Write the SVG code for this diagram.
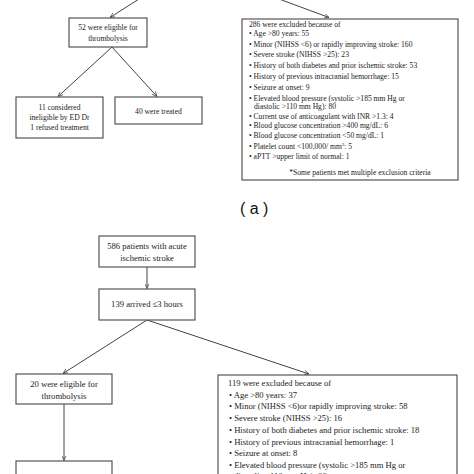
<svg xmlns="http://www.w3.org/2000/svg" width="474" height="474" viewBox="0 0 474 474">
<style>
.box{fill:#fff;stroke:#555;stroke-width:1.2}
.ln{stroke:#444;stroke-width:1;fill:none;marker-end:url(#ah)}
.t{font-family:"Liberation Serif",serif;fill:#222}
.s{font-size:7.6px}
.b{font-size:8.6px}
.c{text-anchor:middle}
</style>
<defs>
<marker id="ah" viewBox="0 0 8 8" refX="8" refY="4" markerWidth="5" markerHeight="5" orient="auto" markerUnits="userSpaceOnUse">
<path d="M0,0.5 L8,4 L0,7.5" fill="none" stroke="#444" stroke-width="1.2"/>
</marker>
</defs>
<rect width="474" height="474" fill="#fff"/>
<g id="connectors">
<line class="ln" x1="139" y1="-1" x2="110" y2="17.5"/>
<line class="ln" x1="279" y1="-1" x2="329" y2="17.5"/>
<line class="ln" x1="112" y1="47" x2="58" y2="96.5"/>
<line class="ln" x1="112" y1="47" x2="157" y2="96.5"/>
<line class="ln" x1="147" y1="267" x2="147" y2="288.5"/>
<line class="ln" x1="147" y1="320" x2="63" y2="373.5"/>
<line class="ln" x1="147" y1="320" x2="309" y2="374"/>
<line class="ln" x1="64" y1="404" x2="64" y2="460.5"/>
</g>
<g id="n_eligible52">
<rect class="box" x="69" y="18" width="78" height="29"/>
<text class="t s c" x="108" y="30">52 were eligible for</text>
<text class="t s c" x="108" y="41">thrombolysis</text>
</g>
<g id="n_ineligible">
<rect class="box" x="16" y="97" width="87" height="41"/>
<text class="t s c" x="59.5" y="109.5">11 considered</text>
<text class="t s c" x="59.5" y="119.5">ineligible by ED Dr</text>
<text class="t s c" x="59.5" y="129.5">1 refused treatment</text>
</g>
<g id="n_treated40">
<rect class="box" x="115" y="97" width="87" height="27"/>
<text class="t s c" x="158.5" y="114">40 were treated</text>
</g>
<g id="n_excluded286">
<rect class="box" x="242" y="19" width="216" height="161"/>
<text class="t s" x="249" y="27">286 were excluded because of</text>
<text class="t s" x="249" y="36">• Age &gt;80 years: 55</text>
<text class="t s" x="249" y="46.5">• Minor (NIHSS &lt;6) or rapidly improving stroke: 160</text>
<text class="t s" x="249" y="57">• Severe stroke (NIHSS &gt;25): 23</text>
<text class="t s" x="249" y="68">• History of both diabetes and prior ischemic stroke: 53</text>
<text class="t s" x="249" y="79">• History of previous intracranial hemorrhage: 15</text>
<text class="t s" x="249" y="90">• Seizure at onset: 9</text>
<text class="t s" x="249" y="100.5">• Elevated blood pressure (systolic &gt;185 mm Hg or</text>
<text class="t s" x="254" y="109">diastolic &gt;110 mm Hg): 80</text>
<text class="t s" x="249" y="118.5">• Current use of anticoagulant with INR &gt;1.3: 4</text>
<text class="t s" x="249" y="128">• Blood glucose concentration &gt;400 mg/dL: 6</text>
<text class="t s" x="249" y="138">• Blood glucose concentration &lt;50 mg/dL: 1</text>
<text class="t s" x="249" y="148.5">• Platelet count &lt;100,000/ mm<tspan font-size="5" dy="-3">3</tspan><tspan dy="3">: 5</tspan></text>
<text class="t s" x="249" y="159">• aPTT &gt;upper limit of normal: 1</text>
<text class="t s c" x="360" y="174.5">*Some patients met multiple exclusion criteria</text>
</g>
<text x="240" y="213.5" font-family="Liberation Sans,Arial,sans-serif" font-size="16" fill="#111">( a )</text>
<g id="n_patients586">
<rect class="box" x="99" y="236" width="96" height="31"/>
<text class="t b c" x="147" y="249">586 patients with acute</text>
<text class="t b c" x="147" y="261">ischemic stroke</text>
</g>
<g id="n_arrived139">
<rect class="box" x="99" y="289" width="96" height="31"/>
<text class="t b c" x="147" y="306.5">139 arrived ≤3 hours</text>
</g>
<g id="n_eligible20">
<rect class="box" x="16" y="374" width="96" height="30"/>
<text class="t b c" x="64" y="387">20 were eligible for</text>
<text class="t b c" x="64" y="399">thrombolysis</text>
</g>
<g id="n_next">
<rect class="box" x="16" y="461" width="96" height="30"/>
</g>
<g id="n_excluded119">
<rect class="box" x="218" y="375" width="239" height="120"/>
<text class="t b" x="228" y="386">119 were excluded because of</text>
<text class="t b" x="229" y="397.5">• Age &gt;80 years: 37</text>
<text class="t b" x="229" y="409">• Minor (NIHSS &lt;6)or rapidly improving stroke: 58</text>
<text class="t b" x="229" y="421">• Severe stroke (NIHSS &gt;25): 16</text>
<text class="t b" x="229" y="433">• History of both diabetes and prior ischemic stroke: 18</text>
<text class="t b" x="229" y="445">• History of previous intracranial hemorrhage: 1</text>
<text class="t b" x="229" y="456">• Seizure at onset: 8</text>
<text class="t b" x="229" y="467.5">• Elevated blood pressure (systolic &gt;185 mm Hg or</text>
<text class="t b" x="234" y="478.5">diastolic &gt;110 mm Hg): 26</text>
</g>
</svg>
